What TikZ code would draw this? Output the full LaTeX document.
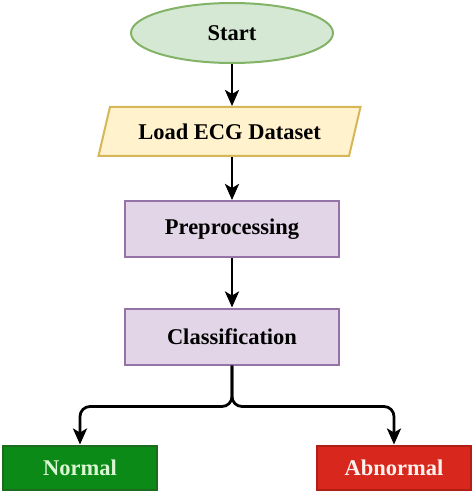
\documentclass[tikz,border=0pt]{standalone}
\usepackage{fontspec}
\setmainfont{Liberation Serif}
\usetikzlibrary{shapes.geometric,arrows.meta}

\definecolor{startfill}{HTML}{D5E8D4}
\definecolor{startline}{HTML}{82B366}
\definecolor{loadfill}{HTML}{FFF2CC}
\definecolor{loadline}{HTML}{D6B656}
\definecolor{procfill}{HTML}{E1D5E7}
\definecolor{procline}{HTML}{9673A6}
\definecolor{normfill}{HTML}{0B8A17}
\definecolor{normline}{HTML}{1D6B1D}
\definecolor{normtext}{HTML}{DAF6D2}
\definecolor{abnfill}{HTML}{D8281D}
\definecolor{abnline}{HTML}{B01E14}
\definecolor{abntext}{HTML}{FFF2EE}

\begin{document}
\begin{tikzpicture}[x=1pt,y=-1pt,
  every node/.style={font=\fontsize{22.5}{25}\selectfont\bfseries},
  procbox/.style={draw=procline, fill=procfill, line width=2pt, minimum width=214pt, minimum height=56pt},
  resultbox/.style={line width=2pt, minimum width=154pt, minimum height=44pt},
  flow/.style={-{Stealth[length=16pt,width=14pt,inset=4pt]}, line width=2.8pt}]
  \useasboundingbox (0,0) rectangle (474,494);
  \node[ellipse, draw=startline, fill=startfill, line width=2pt, minimum width=202pt, minimum height=60pt] (start) at (232,33) {Start};
  \node[trapezium, trapezium left angle=63, trapezium right angle=117, trapezium stretches body,
        draw=loadline, fill=loadfill, line width=2pt, minimum width=262pt, minimum height=49pt] (load) at (229.5,131.5) {Load ECG Dataset};
  \node[procbox] (prep) at (232,229) {Preprocessing};
  \node[procbox] (classif) at (232,336.5) {Classification};
  \node[resultbox, draw=normline, fill=normfill, text=normtext] (normal) at (80,467.5) {Normal};
  \node[resultbox, draw=abnline, fill=abnfill, text=abntext] (abnormal) at (394,467.5) {Abnormal};
  % Draw the flow
  \draw[flow] (start.south) -- (start.south |- load.north);
  \draw[flow] (prep.north |- load.south) -- (prep.north);
  \draw[flow] (prep) -- (classif);
  \draw[flow, rounded corners=10pt] (classif.south) -- ++(0,41) -| (normal.north);
  \draw[flow, rounded corners=10pt] (classif.south) -- ++(0,41) -| (abnormal.north);
\end{tikzpicture}
\end{document}
